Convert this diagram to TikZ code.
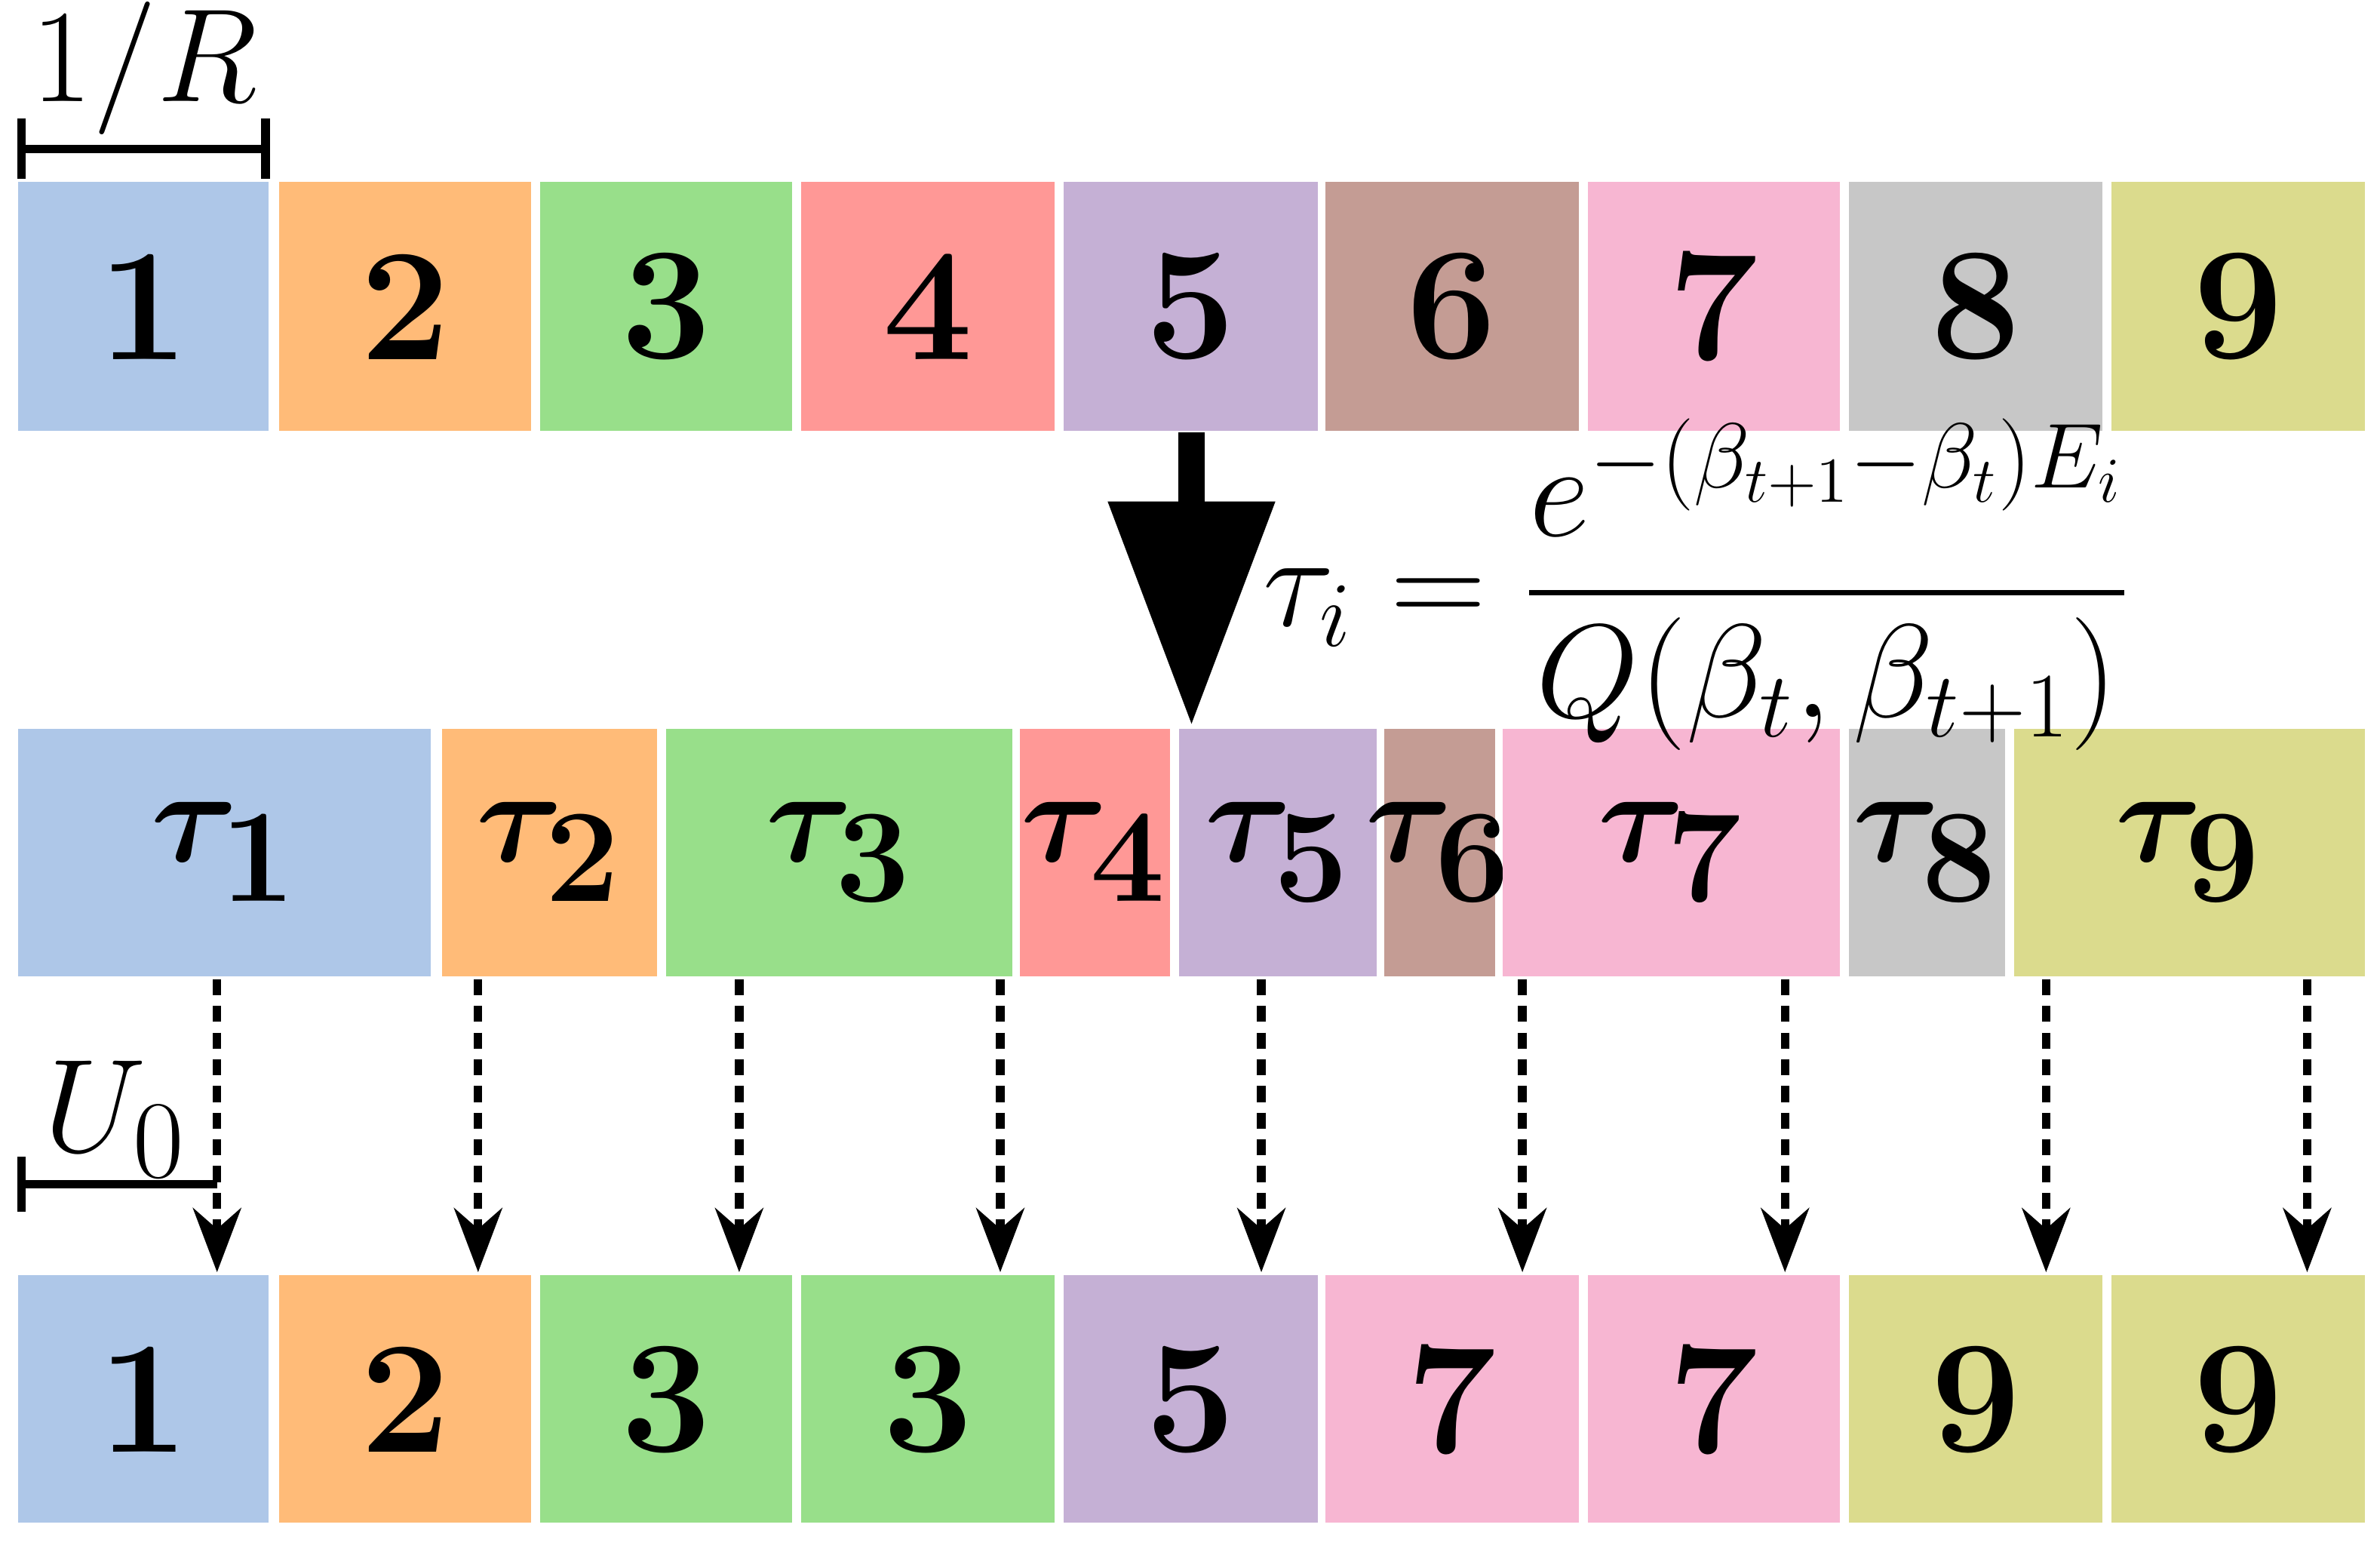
\documentclass[tikz,border=0pt]{standalone}
\usepackage{amsmath}
\usepackage{bm}
\usetikzlibrary{arrows.meta}
\definecolor{c1}{HTML}{AEC7E8}\definecolor{c2}{HTML}{FFBB78}\definecolor{c3}{HTML}{98DF8A}
\definecolor{c4}{HTML}{FF9896}\definecolor{c5}{HTML}{C5B0D5}\definecolor{c6}{HTML}{C49C94}
\definecolor{c7}{HTML}{F7B6D2}\definecolor{c8}{HTML}{C7C7C7}\definecolor{c9}{HTML}{DBDB8D}
\tikzset{cell/.style={inner sep=0pt,font=\fontsize{30}{32}\selectfont\bfseries},
tcell/.style={inner sep=0pt,font=\fontsize{40}{42}\selectfont},
dotarrow/.style={line width=1.6pt,dash pattern=on 3pt off 2pt,-{Stealth[length=12pt,width=9pt]}},
brk/.style={line width=1.6pt}}
\begin{document}
\begin{tikzpicture}[x=0.01cm,y=-0.01cm]
\useasboundingbox (0,0) rectangle (1568,1018);
% top row
\foreach \pa/\pb [count=\i] in {12/177,184/350,356/522,528/695,701/868,873/1040,1046/1212,1218/1385,1391/1558} {
  \fill[c\i] (\pa,120) rectangle (\pb,284);
  \node[cell] (t\i) at ({(\pa+\pb)/2},202) {\i};
}
% middle row
\fill[c1] (12,480) rectangle (284,643);   \node[tcell] (m1) at (148,561) {$\bm{\tau}_{\mathbf{1}}$};
\fill[c2] (291,480) rectangle (433,643);  \node[tcell] (m2) at (362,561) {$\bm{\tau}_{\mathbf{2}}$};
\fill[c3] (439,480) rectangle (667,643);  \node[tcell] (m3) at (553,561) {$\bm{\tau}_{\mathbf{3}}$};
\fill[c4] (672,480) rectangle (771,643);  \node[tcell] (m4) at (721,561) {$\bm{\tau}_{\mathbf{4}}$};
\fill[c5] (777,480) rectangle (907,643);  \node[tcell] (m5) at (842,561) {$\bm{\tau}_{\mathbf{5}}$};
\fill[c6] (912,480) rectangle (985,643);  \node[tcell] (m6) at (948,561) {$\bm{\tau}_{\mathbf{6}}$};
\fill[c7] (990,480) rectangle (1212,643); \node[tcell] (m7) at (1101,561) {$\bm{\tau}_{\mathbf{7}}$};
\fill[c8] (1218,480) rectangle (1321,643);\node[tcell] (m8) at (1269,561) {$\bm{\tau}_{\mathbf{8}}$};
\fill[c9] (1327,480) rectangle (1558,643);\node[tcell] (m9) at (1442,561) {$\bm{\tau}_{\mathbf{9}}$};
% bottom row
\foreach \pa/\pb/\pc [count=\i] in {12/177/1,184/350/2,356/522/3,528/695/3,701/868/5,873/1040/7,1046/1212/7,1218/1385/9,1391/1558/9} {
  \fill[c\pc] (\pa,840) rectangle (\pb,1003);
  \node[cell] (b\i) at ({(\pa+\pb)/2},922) {\pc};
}
% 1/R bracket
\coordinate (ra) at (14,98); \coordinate (rb) at (175,98);
\draw[brk] (ra) -- (rb); \draw[brk] (14,78) -- (14,118); \draw[brk] (175,78) -- (175,118);
\node[font=\fontsize{30}{32}\selectfont] (rl) at (95,45) {$1/R$};
% big arrow
\coordinate (as) at (785,285); \coordinate (ae) at (785,478);
\draw[line width=5pt,-{Triangle[length=42pt,width=30pt]}] (as) -- (ae);
\node[font=\fontsize{26}{28}\selectfont,anchor=west] (f) at (820,385)
 {$\tau_i = \dfrac{e^{-(\beta_{t+1}-\beta_t)E_i}}{Q(\beta_t,\beta_{t+1})}$};
% dashed arrows
\foreach \x [count=\i] in {143,315,487,659,831,1003,1176,1348,1520} {
  \coordinate (s\i) at (\x,645); \coordinate (e\i) at (\x,838);
  \draw[dotarrow] (s\i) -- (e\i);
}
% U0 bracket
\coordinate (ua) at (14,780); \coordinate (ub) at (143,780);
\draw[brk] (ua) -- (ub); \draw[brk] (14,762) -- (14,798);
\node[font=\fontsize{28}{30}\selectfont] (ul) at (76,737) {$U_0$};
\end{tikzpicture}
\end{document}
